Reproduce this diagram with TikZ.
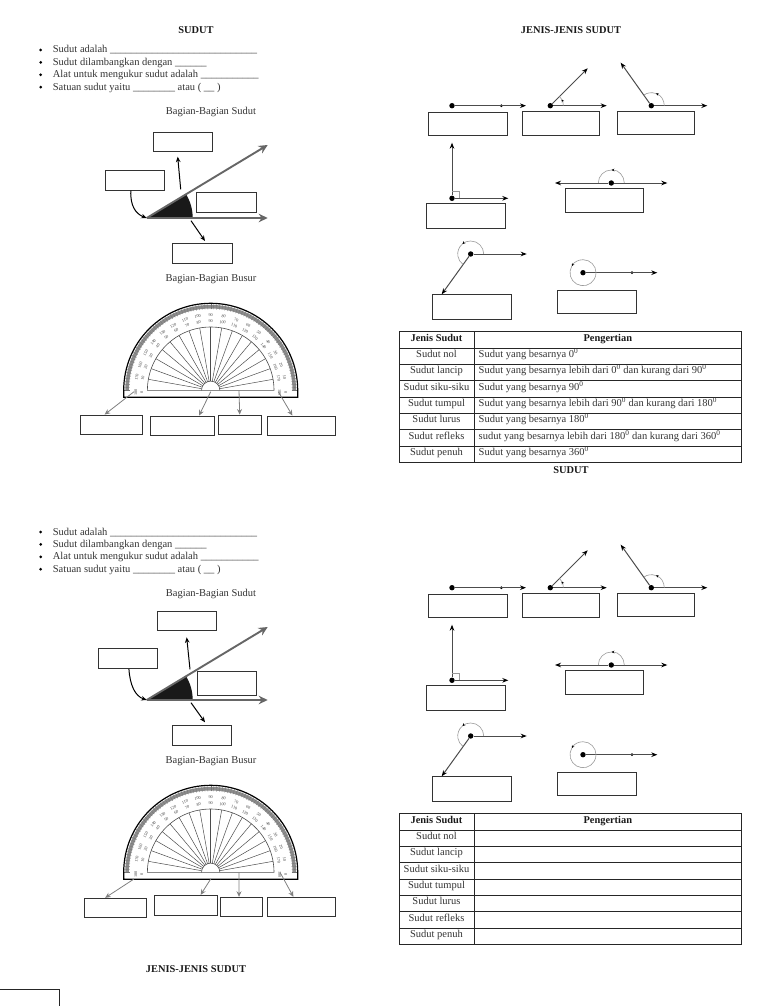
\documentclass[tikz,border=0pt]{standalone}
\usepackage{fontspec}
\setmainfont{Liberation Serif}
\usetikzlibrary{arrows.meta}
\tikzset{
  kotak/.style={draw=black!80,line width=1pt,inner sep=0pt,fill=white},
  teks/.style={inner sep=0pt,anchor=base west,text=black!80,font=\fontsize{10.5}{12}\selectfont},
  teksc/.style={teks,anchor=base},
  judul/.style={inner sep=0pt,anchor=base,text=black!90,font=\fontsize{10.4}{12}\selectfont\bfseries},
  angka/.style={inner sep=0pt,text=black!75,font=\fontsize{4.2}{5}\selectfont},
  titik/.style={circle,fill=black,inner sep=0pt,minimum size=5.4pt},
  titikkecil/.style={circle,fill=black,inner sep=0pt,minimum size=3pt},
  sinar/.style={draw=black!70,line width=1pt,-{Stealth[length=6pt,width=4.6pt,black]}},
  sinartebal/.style={draw=black!60,line width=1.9pt,-{Stealth[length=9pt,width=8.5pt]}},
  panah/.style={draw=black,line width=1pt,-{Stealth[length=5.5pt,width=4.6pt]}},
  panahabu/.style={draw=black!50,line width=0.8pt,-{Stealth[length=5.5pt,width=5pt]}},
  lengkungan/.style={draw=black!40,line width=0.6pt}
}
\newcommand{\garis}[1]{\foreach \g in {1,...,#1}{\_}}
% arc of an angle, with its small tip halfway
\newcommand{\lengkung}[5]{
  \draw[lengkungan,-{Stealth[length=3pt,width=2.6pt,black]}] (#1) ++(-#2:#5) arc[start angle=-#2,end angle=-#3,radius=#5];
  \draw[lengkungan] (#1) ++(-#3:#5) arc[start angle=-#3,end angle=-#4,radius=#5];
}
% protractor
\newcommand{\busur}{
  \begin{scope}[shift={(210.7,390.3)}]
    \draw[black!45,line width=3.6pt] (-83.6,0) arc[start angle=-180,end angle=0,radius=83.6];
    \foreach \t in {0,2,...,180}
      \draw[black!55,line width=0.3pt] (-\t:81) -- (-\t:86.5);
    \draw[black,line width=1.2pt] (-87,7) -- (-87,0) arc[start angle=-180,end angle=0,radius=87] -- (87,7) -- cycle;
    \draw[black!70,line width=0.6pt] (-63.3,0) arc[start angle=-180,end angle=0,radius=63.3] -- cycle;
    \draw[black!70,line width=0.6pt] (-9.2,0) arc[start angle=-180,end angle=0,radius=9.2];
    \foreach \a in {10,20,...,170}{
      \draw[black!70,line width=0.5pt] (-\a:9.2) -- (-\a:63.3);
      \pgfmathtruncatemacro{\b}{180-\a}
      \node[angka,rotate=\a-90] (luar\a) at (-\a:75) {\a};
      \node[angka,rotate=\a-90] (dalam\a) at (-\a:69) {\b};
    }
    \node[angka,rotate=90] (luarkiri) at (-75,2) {180};
    \node[angka,rotate=90] (dalamkiri) at (-69,2) {0};
    \node[angka,rotate=-90] (luarkanan) at (75,2) {0};
    \node[angka,rotate=-90] (dalamkanan) at (69,2) {180};
  \end{scope}
}
% what both halves of the sheet have in common
\newcommand{\lembar}{
  \foreach \i/\isi in {0/Sudut adalah \garis{28},
                       1/Sudut dilambangkan dengan \garis{6},
                       2/Alat untuk mengukur sudut adalah \garis{11},
                       3/Satuan sudut yaitu \garis{8} atau ( \garis{2} )}{
    \node[titikkecil] (bullet\i) at (40.7,{50+12.4*\i}) {};
    \node[teks] (daftar\i) at (52.7,{53+12.4*\i}) {\isi};
  }
  \node[teksc] (bagsudut) at (211,114.5) {Bagian-Bagian Sudut};
  \node[teksc] (bagbusur) at (211,281) {Bagian-Bagian Busur};
  % parts of an angle
  \coordinate (pangkal) at (146.7,218);
  \coordinate (ujungA) at (267.7,145);
  \coordinate (ujungB) at (267.7,218);
  \fill[black!90] (pangkal) -- ++(46,0) arc[start angle=0,end angle=-31,radius=46] -- cycle;
  \draw[sinartebal] (pangkal) -- (ujungA);
  \draw[sinartebal] (pangkal) -- (ujungB);
  \busur
  % kinds of angle
  \node[titik] (nol) at (452,105.7) {};
  \node[titikkecil] (nolb) at (501.3,105.7) {};
  \coordinate (nolu) at (526,105.7);
  \draw[sinar] (nol) -- (nolu);
  \node[titik] (lancip) at (550.3,105.7) {};
  \coordinate (lancipa) at (606.7,105.7);
  \coordinate (lancipb) at (587.7,68.3);
  \draw[sinar] (lancip) -- (lancipa);
  \draw[sinar] (lancip) -- (lancipb);
  \lengkung{lancip}{0}{30}{45}{13}
  \node[titik] (tumpul) at (651.3,105.7) {};
  \coordinate (tumpula) at (707.3,105.7);
  \coordinate (tumpulb) at (620.7,62.7);
  \draw[sinar] (tumpul) -- (tumpula);
  \draw[sinar] (tumpul) -- (tumpulb);
  \lengkung{tumpul}{0}{70}{125}{13}
  \node[titik] (siku) at (452,198.3) {};
  \coordinate (sikua) at (508.3,198.3);
  \coordinate (sikub) at (452,142.7);
  \draw[sinar] (siku) -- (sikua);
  \draw[sinar] (siku) -- (sikub);
  \draw[lengkungan] (452,191) -| (459.3,198.3);
  \node[titik] (lurus) at (611.3,183) {};
  \coordinate (lurusa) at (667.3,183);
  \coordinate (lurusb) at (555,183);
  \draw[sinar] (lurus) -- (lurusa);
  \draw[sinar] (lurus) -- (lurusb);
  \lengkung{lurus}{0}{90}{180}{13}
  \node[titik] (refleks) at (470.7,254) {};
  \coordinate (refleksa) at (526.7,254);
  \coordinate (refleksb) at (441.7,294.3);
  \draw[sinar] (refleks) -- (refleksa);
  \draw[sinar] (refleks) -- (refleksb);
  \lengkung{refleks}{0}{130}{235}{13}
  \node[titik] (penuh) at (583,272.7) {};
  \node[titikkecil] (penuhb) at (632,272.7) {};
  \coordinate (penuhu) at (657.3,272.7);
  \draw[sinar] (penuh) -- (penuhu);
  \lengkung{penuh}{0}{150}{360}{13}
  \node[kotak,minimum width=79pt,minimum height=23.4pt] (knol) at (468.2,124) {};
  \node[kotak,minimum width=77.3pt,minimum height=24pt] (klancip) at (560.7,123.7) {};
  \node[kotak,minimum width=77.7pt,minimum height=23pt] (ktumpul) at (655.9,123.2) {};
  \node[kotak,minimum width=78.6pt,minimum height=24.7pt] (ksiku) at (466,215.7) {};
  \node[kotak,minimum width=77.7pt,minimum height=23.7pt] (klurus) at (604.6,200.2) {};
  \node[kotak,minimum width=78.6pt,minimum height=25pt] (krefleks) at (472,306.8) {};
  \node[kotak,minimum width=78.7pt,minimum height=23.3pt] (kpenuh) at (597.3,301.7) {};
  % table
  \foreach \r in {0,...,8}
    \draw[black!85,line width=0.8pt] (399,{331.7+16.32*\r}) -- (741.7,{331.7+16.32*\r});
  \draw[black!85,line width=0.8pt] (399,331.7) -- (399,462.3);
  \draw[black!85,line width=0.8pt] (474,331.7) -- (474,462.3);
  \draw[black!85,line width=0.8pt] (741.7,331.7) -- (741.7,462.3);
  \node[judul] (hjenis) at (436.5,341) {Jenis Sudut};
  \node[judul] (hpengertian) at (607.8,341) {Pengertian};
  \foreach \i/\jenis in {1/Sudut nol,2/Sudut lancip,3/Sudut siku-siku,4/Sudut tumpul,
                         5/Sudut lurus,6/Sudut refleks,7/Sudut penuh}
    \node[teksc] (jenis\i) at (436.5,{331.7+16.32*\i+9.4}) {\jenis};
}
\begin{document}
\begin{tikzpicture}[x=1pt,y=-1pt]
\useasboundingbox (0,0) rectangle (768,1006);
\node[judul] (jdlsudut) at (196,34) {SUDUT};
\node[judul] (jdljenis) at (571,34) {JENIS-JENIS SUDUT};
\lembar
% upper sheet
\node[kotak,minimum width=59.4pt,minimum height=19.4pt] (ktitik) at (183,142) {};
\node[kotak,minimum width=59.4pt,minimum height=19.7pt] (kkiri) at (135,180.2) {};
\node[kotak,minimum width=59.7pt,minimum height=19.3pt] (kdaerah) at (226.2,202.4) {};
\node[kotak,minimum width=59.7pt,minimum height=19.3pt] (kbawah) at (202.2,253.4) {};
\coordinate (pA) at (180.7,189.3);
\coordinate (qA) at (177.7,156.7);
\draw[panah] (pA) -- (qA);
\draw[panah] (kkiri.-112) .. controls (130,206) and (136,214) .. (pangkal);
\coordinate (pB) at (191,220.7);
\coordinate (qB) at (205,241);
\draw[panah] (pB) -- (qB);
\node[kotak,minimum width=62.4pt,minimum height=19.3pt] (bus1) at (111.5,424.7) {};
\node[kotak,minimum width=63.7pt,minimum height=19.3pt] (bus2) at (182.2,425.7) {};
\node[kotak,minimum width=42.7pt,minimum height=19.3pt] (bus3) at (239.7,424.7) {};
\node[kotak,minimum width=67.7pt,minimum height=19.3pt] (bus4) at (301.2,425.7) {};
\coordinate (t1) at (134,391.7);
\coordinate (t2) at (210.7,391.7);
\coordinate (t3) at (239,390.3);
\coordinate (t4) at (278.3,391.7);
\draw[panahabu] (t1) -- (bus1.124);
\draw[panahabu] (t2) -- (bus2.31);
\draw[panahabu] (t3) -- (bus3.north);
\draw[panahabu] (t4) -- (bus4.131);
\foreach \i/\arti in {1/Sudut yang besarnya 0\textsuperscript{0},
                      2/Sudut yang besarnya lebih dari 0\textsuperscript{0} dan kurang dari 90\textsuperscript{0},
                      3/Sudut yang besarnya 90\textsuperscript{0},
                      4/Sudut yang besarnya lebih dari 90\textsuperscript{0} dan kurang dari 180\textsuperscript{0},
                      5/Sudut yang besarnya 180\textsuperscript{0},
                      6/sudut yang besarnya lebih dari 180\textsuperscript{0} dan kurang dari 360\textsuperscript{0},
                      7/Sudut yang besarnya 360\textsuperscript{0}}
  \node[teks] (arti\i) at (478.5,{331.7+16.32*\i+9.4}) {\arti};
\node[judul] (jdlsudutb) at (571,473) {SUDUT};
% lower sheet
\begin{scope}[shift={(0,482)},name prefix=b]
\lembar
\node[kotak,minimum width=59pt,minimum height=19pt] (ktitik) at (187.2,139.2) {};
\node[kotak,minimum width=59.4pt,minimum height=20.4pt] (kkiri) at (128,176.5) {};
\node[kotak,minimum width=59.4pt,minimum height=24pt] (kdaerah) at (227,201.7) {};
\node[kotak,minimum width=59.3pt,minimum height=19.3pt] (kbawah) at (202.3,253.4) {};
\coordinate (pA) at (190,187.3);
\coordinate (qA) at (186.7,155.3);
\draw[panah] (pA) -- (qA);
\draw[panah] (kkiri.-85) .. controls (130,203) and (135,214) .. (pangkal);
\coordinate (pB) at (191,220.7);
\coordinate (qB) at (205,240.3);
\draw[panah] (pB) -- (qB);
\node[kotak,minimum width=62.4pt,minimum height=19pt] (bus1) at (115.5,425.8) {};
\node[kotak,minimum width=63pt,minimum height=20pt] (bus2) at (186.2,423.3) {};
\node[kotak,minimum width=42pt,minimum height=19pt] (bus3) at (241.7,424.8) {};
\node[kotak,minimum width=67.6pt,minimum height=19pt] (bus4) at (301.5,424.8) {};
\coordinate (t1) at (134,397);
\coordinate (t2) at (210.7,397);
\coordinate (t3) at (239,390.3);
\coordinate (t4) at (280,390.3);
\draw[panahabu] (t1) -- (bus1.136);
\draw[panahabu] (t2) -- (bus2.36);
\draw[panahabu] (t3) -- (bus3.105);
\draw[panahabu] (t4) -- (bus4.129);
\end{scope}
\node[judul] (jdljenisb) at (196,972) {JENIS-JENIS SUDUT};
\draw[black!85,line width=0.8pt] (0,989.3) -| (59.7,1006);
\end{tikzpicture}
\end{document}
